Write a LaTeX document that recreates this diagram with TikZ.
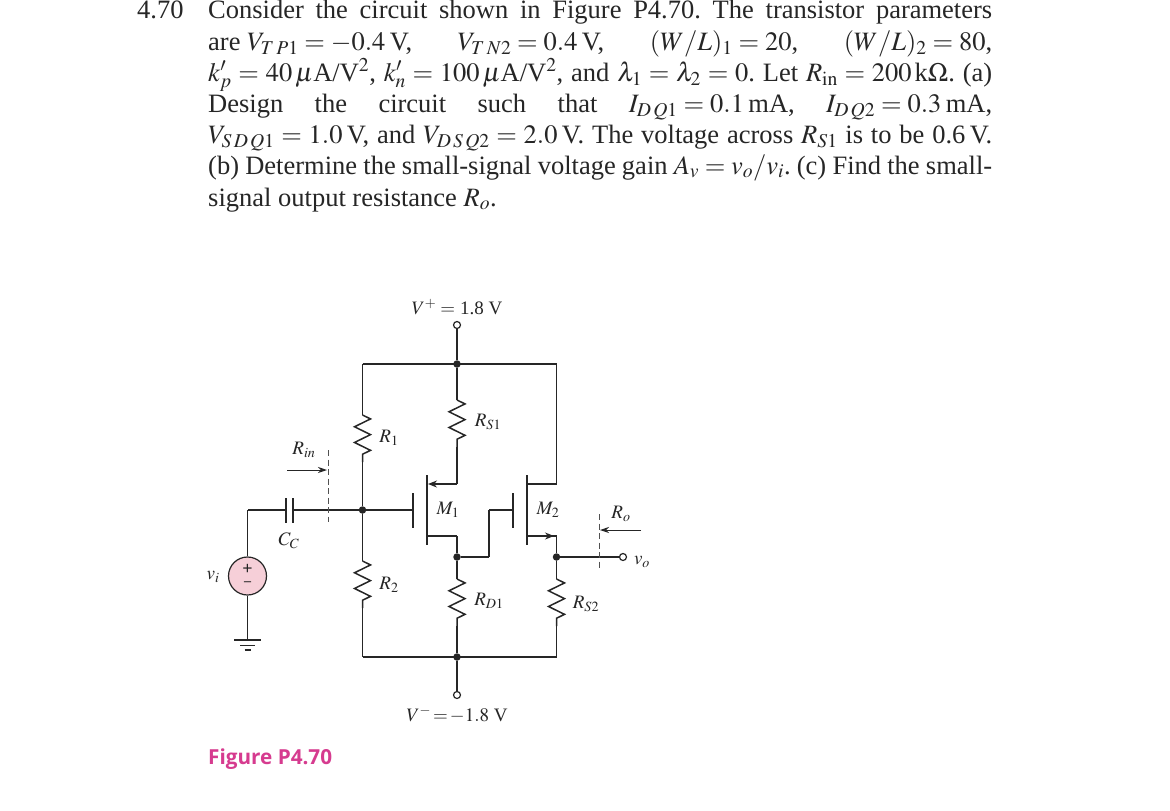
\documentclass[tikz,border=0pt]{standalone}
\usepackage{amsmath,amssymb}
\usepackage{mathptmx}
\usepackage{fontspec}
\setmainfont{Liberation Serif}
\newfontfamily\figfont{Open Sans}
\usetikzlibrary{arrows.meta,decorations.pathmorphing}
\definecolor{ink}{HTML}{262626}
\definecolor{srcpink}{HTML}{F6CFD8}
\definecolor{figpink}{HTML}{D63B8F}
\newcommand{\probline}[1]{\makebox[784pt][s]{#1}}
\frenchspacing
\tikzset{
	textline/.style={anchor=base west,inner sep=0pt,text=ink,font=\fontsize{26.5}{31}\selectfont},
	lab/.style={inner sep=0pt,text=ink,font=\fontsize{19}{22}\selectfont},
	wire/.style={draw=ink,line width=1.4pt},
	res/.style={draw=ink,line width=1.5pt,line join=miter,decorate,decoration={zigzag,amplitude=8pt,segment length=15.7pt}},
	bar/.style={draw=ink,line width=2.4pt},
	dot/.style={circle,fill=ink,inner sep=0pt,minimum size=7.5pt},
	term/.style={circle,draw=ink,fill=white,line width=1.2pt,inner sep=0pt,minimum size=7pt},
	dashline/.style={draw=ink!80,line width=1pt,dash pattern=on 6pt off 3.5pt},
	flow/.style={draw=ink,line width=1pt,-{Stealth[length=9pt,width=6pt]}},
	tip/.style={draw=ink,line width=1.4pt,-{Stealth[length=9pt,width=7pt]}}
}
\begin{document}
\begin{tikzpicture}[x=1pt,y=-1pt]
	\useasboundingbox (0,0) rectangle (1170,811);
	\fill[white] (0,0) rectangle (1170,811);
	% problem text
	\node[textline] (num) at (137,19) {4.70};
	\node[textline] (l1) at (208,19) {\probline{Consider the circuit shown in Figure P4.70. The transistor parameters}};
	\node[textline] (l2) at (208,50) {\probline{are $V_{T\,P1}=-0.4$\,V,\hfill $V_{T\,N2}=0.4$\,V,\hfill $(W/L)_1=20$,\hfill $(W/L)_2=80$,}};
	\node[textline] (l3) at (208,81) {\probline{$k'_p=40\,\mu$A/V$^2$, $k'_n=100\,\mu$A/V$^2$, and $\lambda_1=\lambda_2=0$. Let $R_{\mathrm{in}}=200\,$k$\Omega$. (a)}};
	\node[textline] (l4) at (208,112) {\probline{Design\hfill the\hfill circuit\hfill such\hfill that\hfill $I_{D\,Q1}=0.1$\,mA,\hfill $I_{D\,Q2}=0.3$\,mA,}};
	\node[textline] (l5) at (208,143) {\probline{$V_{S\,D\,Q1}=1.0$\,V, and $V_{D\,S\,Q2}=2.0$\,V. The voltage across $R_{S1}$ is to be 0.6\,V.}};
	\node[textline] (l6) at (208,174) {\probline{(b) Determine the small-signal voltage gain $A_v=v_o/v_i$. (c) Find the small-}};
	\node[textline] (l7) at (208,206) {signal output resistance $R_o$.};
	% junctions and terminals
	\node[term] (vp) at (457,325) {};
	\node[term] (vm) at (457,695) {};
	\node[term] (vout) at (623,557) {};
	\node[dot] (jt) at (457,364) {};
	\node[dot] (jg) at (362.5,510) {};
	\node[dot] (jd) at (457,557) {};
	\node[dot] (js) at (556.5,557) {};
	\node[dot] (jb) at (457,657) {};
	\node[circle,draw=ink,fill=srcpink,line width=1.2pt,minimum size=38pt,inner sep=0pt] (vs) at (247.5,576) {};
	\node[inner sep=0pt,text=ink,font=\fontsize{18}{18}\selectfont\bfseries] (vsp) at (247.5,569) {+};
	\node[inner sep=0pt,text=ink,font=\fontsize{14}{14}\selectfont\bfseries] (vsm) at (247.5,584) {--};
	% rails and resistor ends
	\coordinate (tl) at (362.5,364);
	\coordinate (tr) at (556.5,364);
	\coordinate (bl) at (362.5,657);
	\coordinate (br) at (556.5,657);
	\coordinate (r1a) at (362.5,415);
	\coordinate (r1b) at (362.5,462);
	\coordinate (r2a) at (362.5,561);
	\coordinate (r2b) at (362.5,608);
	\coordinate (rs1a) at (457,400);
	\coordinate (rs1b) at (457,447);
	\coordinate (rd1a) at (457,579);
	\coordinate (rd1b) at (457,626);
	\coordinate (rs2a) at (556.5,579);
	\coordinate (rs2b) at (556.5,626);
	% transistors
	\coordinate (g1) at (413,510);
	\coordinate (g1t) at (413,493);
	\coordinate (g1b) at (413,528);
	\coordinate (c1t) at (427,475);
	\coordinate (c1b) at (427,545);
	\coordinate (s1) at (428,484);
	\coordinate (s1r) at (457,484);
	\coordinate (d1) at (427,536);
	\coordinate (d1r) at (457,536);
	\coordinate (g2) at (513,510);
	\coordinate (g2t) at (513,493);
	\coordinate (g2b) at (513,528);
	\coordinate (g2l) at (489,510);
	\coordinate (g2d) at (489,557);
	\coordinate (c2t) at (527,475);
	\coordinate (c2b) at (527,545);
	\coordinate (d2) at (527,484);
	\coordinate (d2r) at (556.5,484);
	\coordinate (s2) at (527,536);
	\coordinate (s2m) at (556.5,536);
	\coordinate (s2e) at (554,536);
	% input side
	\coordinate (il) at (247.5,510);
	\coordinate (ca) at (286,510);
	\coordinate (cb) at (293,510);
	\coordinate (cat) at (286,498);
	\coordinate (cab) at (286,523);
	\coordinate (cbt) at (293,498);
	\coordinate (cbb) at (293,523);
	\coordinate (gnd) at (247.5,640);
	\path[wire]
	(vp) edge (jt)
	(tl) edge (tr) edge (r1a)
	(jt) edge (rs1a)
	(rs1b) edge (s1r)
	(r1b) edge (jg)
	(jg) edge (r2a) edge (g1) edge (cb)
	(r2b) edge (bl)
	(bl) edge (br)
	(jb) edge (vm) edge (rd1b)
	(jd) edge (rd1a) edge (g2d)
	(d1) edge (d1r)
	(d1r) edge (jd)
	(g2d) edge (g2l)
	(g2l) edge (g2)
	(d2) edge (d2r)
	(d2r) edge (tr)
	(s2) edge (s2m)
	(s2m) edge (js)
	(js) edge (rs2a) edge (vout)
	(rs2b) edge (br)
	(ca) edge (il)
	(il) edge (vs)
	(vs) edge (gnd);
	\draw[res] (r1a) -- (r1b);
	\draw[res] (r2a) -- (r2b);
	\draw[res] (rs1a) -- (rs1b);
	\draw[res] (rd1a) -- (rd1b);
	\draw[res] (rs2a) -- (rs2b);
	\path[bar]
	(g1t) edge (g1b)
	(c1t) edge (c1b)
	(g2t) edge (g2b)
	(c2t) edge (c2b)
	(cat) edge (cab)
	(cbt) edge (cbb);
	\draw[tip] (s1r) -- (s1);
	\draw[tip] (s2) -- (s2e);
	% ground
	\coordinate (gnd1) at (234,640);
	\coordinate (gnd2) at (261,640);
	\coordinate (gnd3) at (240,645.5);
	\coordinate (gnd4) at (255,645.5);
	\coordinate (gnd5) at (244.5,650);
	\coordinate (gnd6) at (250.5,650);
	\path[wire] (gnd1) edge (gnd2) (gnd3) edge (gnd4) (gnd5) edge (gnd6);
	% resistance markers
	\coordinate (rit) at (328,450);
	\coordinate (rib) at (328,522);
	\coordinate (rot) at (599,514);
	\coordinate (rob) at (599,569);
	\coordinate (ria) at (287,470);
	\coordinate (rie) at (327,470);
	\coordinate (roa) at (641,530);
	\coordinate (roe) at (600,530);
	\draw[dashline] (rit) -- (rib);
	\draw[dashline] (rot) -- (rob);
	\draw[flow] (ria) -- (rie);
	\draw[flow] (roa) -- (roe);
	% labels
	\node[lab] (vplab) at (457,307) {$V^{+}=$ 1.8 V};
	\node[lab] (vmlab) at (457,715) {$V^{-}\!=\!{-}1.8$ V};
	\node[lab] (r1lab) at (389,438) {$R_1$};
	\node[lab] (r2lab) at (389,585) {$R_2$};
	\node[lab] (rs1lab) at (488,422) {$R_{S1}$};
	\node[lab] (rd1lab) at (489,601) {$R_{D1}$};
	\node[lab] (rs2lab) at (586,604) {$R_{S2}$};
	\node[lab] (m1lab) at (448,510) {$M_1$};
	\node[lab] (m2lab) at (548,510) {$M_2$};
	\node[lab] (rinlab) at (304,450) {$R_{in}$};
	\node[lab] (rolab) at (621,514) {$R_o$};
	\node[lab] (cclab) at (289,541) {$C_C$};
	\node[lab] (vilab) at (213,577) {$v_i$};
	\node[lab] (volab) at (642,562) {$v_o$};
	\node[anchor=west,inner sep=0pt,text=figpink,font=\figfont\fontsize{20.7}{24}\selectfont\bfseries] (figlab) at (208,759) {Figure P4.70};
\end{tikzpicture}
\end{document}
